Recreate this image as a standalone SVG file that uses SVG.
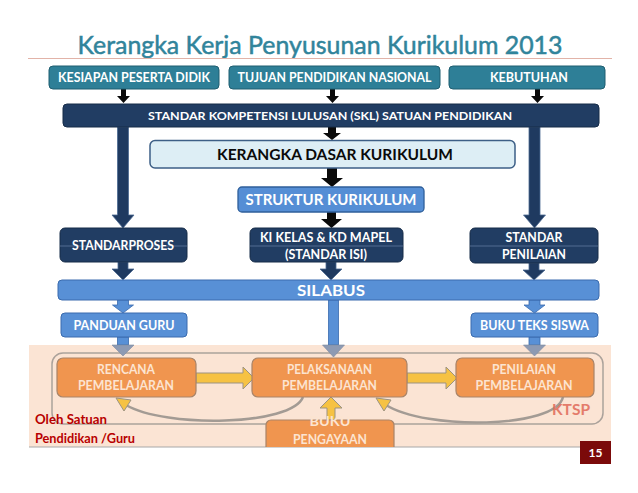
<svg xmlns="http://www.w3.org/2000/svg" width="638" height="493" viewBox="0 0 638 493">
<style>
text{font-family:Lato,"Liberation Sans",sans-serif;text-anchor:middle}
.b{font-weight:bold}
.w{fill:#ffffff}
.teal{fill:#2E7F97;stroke:#1F5E70;stroke-width:1}
.navy{fill:#213D63;stroke:#172C48;stroke-width:1}
.lb{fill:#5890D6;stroke:#3A6BAE;stroke-width:1}
.orb{fill:#F0954F;stroke:#A98468;stroke-width:1.2}
.ot{fill:#FCE4D1;font-weight:bold;font-size:12.5px}
.blk{fill:#0A0A0A}
.nav{fill:#1F3A60;stroke:#4B6A92;stroke-width:0.8}
.lba{fill:#5890D6;stroke:#3A6BAE;stroke-width:0.8}
.gh{fill:#8D9AB3;stroke:#7D89A0;stroke-width:0.6}
.yel{fill:#F6C243;stroke:#9C9382;stroke-width:1}
.crv{fill:none;stroke:#A39B94;stroke-width:2.5}
.mid{stroke:#6E89AD;stroke-width:0.8;opacity:0.8}
.red{fill:#B80000;font-weight:bold;font-size:13px;text-anchor:start}
</style>
<defs>
<clipPath id="clipB"><rect x="0" y="0" width="638" height="447"/></clipPath>
</defs>
<rect width="638" height="493" fill="#ffffff"/>

<g id="title">
<text x="320" y="54" font-size="25" fill="#31849B" stroke="#31849B" stroke-width="0.5" textLength="485" lengthAdjust="spacingAndGlyphs">Kerangka Kerja Penyusunan Kurikulum 2013</text>
<line x1="28" y1="58.5" x2="612" y2="58.5" stroke="#E2B3A8" stroke-width="1.2"/>
</g>

<g id="bottom-panel">
<rect x="29" y="345" width="582" height="102" fill="#FBE4D4"/>
<line x1="29" y1="447" x2="611" y2="447" stroke="#A8A8A8" stroke-width="1.2"/>
<rect x="52" y="353" width="551" height="71" rx="11" fill="none" stroke="#ABA29B" stroke-width="1.5"/>
</g>

<g id="connectors">
<polygon class="blk" points="121,89 126,89 126,96 130,96 123.5,103 117,96 121,96"/>
<polygon class="blk" points="330,89 335,89 335,96 339,96 332.5,103 326,96 330,96"/>
<polygon class="blk" points="535,89 540,89 540,96 544,96 537.5,103 531,96 535,96"/>
<polygon class="blk" points="328,127 336,127 336,133 341,133 332,140 323,133 328,133"/>
<polygon class="blk" points="327,168 337,168 337,178 343,178 332,187 321,178 327,178"/>
<polygon class="blk" points="327,212 336,212 336,219 342,219 331.5,228 321,219 327,219"/>
<polygon class="nav" points="117.5,127 128.5,127 128.5,215 134,215 123,228 112,215 117.5,215"/>
<polygon class="nav" points="529,127 540,127 540,215 545.5,215 534.5,228 523.5,215 529,215"/>
<polygon class="nav" points="118,262 128,262 128,269 134,269 123,280 112,269 118,269"/>
<polygon class="nav" points="326,262 336,262 336,269 342,269 331,280 320,269 326,269"/>
<polygon class="nav" points="529,263 539,263 539,270 545,270 534,280 523,270 529,270"/>
<polygon class="lba" points="117.5,300 128.5,300 128.5,305 133.5,305 123,313 112.5,305 117.5,305"/>
<polygon class="lba" points="529,300 540,300 540,305 545,305 534.5,313 524,305 529,305"/>
<rect class="lba" x="117.5" y="337" width="11" height="8"/>
<polygon class="gh" points="112,345 134,345 123,356"/>
<rect class="lba" x="529" y="337" width="11" height="8"/>
<polygon class="gh" points="523.5,345 545.5,345 534.5,356"/>
<rect class="lba" x="328.5" y="300" width="10" height="45"/>
<polygon class="gh" points="322.5,345 344.5,345 333.5,357"/>
<polygon class="yel" points="196,373 243,373 243,367 254,378 243,389 243,383 196,383"/>
<polygon class="yel" points="407,373 446,373 446,367 457,378 446,389 446,383 407,383"/>
<path class="crv" d="M303,397 C292,426 165,428 126,405"/>
<polygon class="yel" points="116,398 131,400 124,411"/>
<path class="crv" d="M563,397 C556,429 425,430 386,405"/>
<polygon class="yel" points="376,398 391,400 384,411"/>
<polygon class="yel" points="327,420 335,420 335,408 342,408 331,397 320,408 327,408"/>
</g>

<g id="n-kesiapan">
<rect class="teal" x="49" y="66" width="170" height="23" rx="4"/>
<text class="b w" x="134" y="82" font-size="12.5" textLength="152" lengthAdjust="spacingAndGlyphs">KESIAPAN PESERTA DIDIK</text>
</g>
<g id="n-tujuan">
<rect class="teal" x="229" y="66" width="211" height="23" rx="4"/>
<text class="b w" x="334.5" y="82" font-size="12.5" textLength="194" lengthAdjust="spacingAndGlyphs">TUJUAN PENDIDIKAN NASIONAL</text>
</g>
<g id="n-kebutuhan">
<rect class="teal" x="449" y="66" width="156" height="23" rx="4"/>
<text class="b w" x="529" y="82" font-size="12.5" textLength="78" lengthAdjust="spacingAndGlyphs">KEBUTUHAN</text>
</g>

<g id="n-skl">
<rect class="navy" x="63" y="104" width="536" height="23" rx="4"/>
<text class="b w" x="330" y="120" font-size="12" textLength="364" lengthAdjust="spacingAndGlyphs">STANDAR KOMPETENSI LULUSAN (SKL) SATUAN PENDIDIKAN</text>
</g>

<g id="n-kerangka">
<rect x="150" y="140.5" width="365" height="27.5" rx="5" fill="#DDEEF5" stroke="#3D5F86" stroke-width="1.5"/>
<text class="b" x="335" y="159.5" font-size="14.5" fill="#0A0A0A" textLength="236" lengthAdjust="spacingAndGlyphs">KERANGKA DASAR KURIKULUM</text>
</g>

<g id="n-struktur">
<rect x="238" y="187" width="186" height="25" rx="4" fill="#558ED5" stroke="#2F5F9A" stroke-width="1.3"/>
<text class="b w" x="331" y="205" font-size="14.5" textLength="171" lengthAdjust="spacingAndGlyphs">STRUKTUR KURIKULUM</text>
</g>

<g id="n-standarproses">
<rect class="navy" x="60" y="228" width="127" height="34" rx="5"/>
<line class="mid" x1="60" y1="246" x2="187" y2="246"/>
<text class="b w" x="123" y="250" font-size="12.5" textLength="102" lengthAdjust="spacingAndGlyphs">STANDARPROSES</text>
</g>
<g id="n-kikelas">
<rect class="navy" x="250" y="228" width="153" height="34" rx="5"/>
<line class="mid" x1="250" y1="246" x2="403" y2="246"/>
<text class="b w" x="326" y="241.5" font-size="12.5" textLength="132" lengthAdjust="spacingAndGlyphs">KI KELAS &amp; KD MAPEL</text>
<text class="b w" x="326" y="259" font-size="12.5" textLength="82" lengthAdjust="spacingAndGlyphs">(STANDAR ISI)</text>
</g>
<g id="n-penilaian">
<rect class="navy" x="470" y="228" width="128" height="35" rx="5"/>
<line class="mid" x1="470" y1="246" x2="598" y2="246"/>
<text class="b w" x="534" y="241.5" font-size="12.5" textLength="57" lengthAdjust="spacingAndGlyphs">STANDAR</text>
<text class="b w" x="534" y="259" font-size="12.5" textLength="64" lengthAdjust="spacingAndGlyphs">PENILAIAN</text>
</g>

<g id="n-silabus">
<rect class="lb" x="58" y="280" width="541" height="20" rx="4"/>
<text class="b w" x="331" y="296" font-size="16" textLength="68" lengthAdjust="spacingAndGlyphs">SILABUS</text>
</g>

<g id="n-panduan">
<rect class="lb" x="61" y="313" width="126" height="24" rx="4"/>
<text class="b w" x="124" y="329.5" font-size="12.5" textLength="101" lengthAdjust="spacingAndGlyphs">PANDUAN GURU</text>
</g>
<g id="n-bukuteks">
<rect class="lb" x="471" y="313" width="127" height="24" rx="4"/>
<text class="b w" x="534.5" y="329.5" font-size="12.5" textLength="109" lengthAdjust="spacingAndGlyphs">BUKU TEKS SISWA</text>
</g>

<g id="n-rencana">
<rect class="orb" x="57" y="358" width="139" height="39" rx="6"/>
<text class="ot" x="126" y="374" textLength="58" lengthAdjust="spacingAndGlyphs">RENCANA</text>
<text class="ot" x="126" y="390" textLength="96" lengthAdjust="spacingAndGlyphs">PEMBELAJARAN</text>
</g>
<g id="n-pelaksanaan">
<rect class="orb" x="252" y="358" width="155" height="39" rx="6"/>
<text class="ot" x="329.5" y="374" textLength="85" lengthAdjust="spacingAndGlyphs">PELAKSANAAN</text>
<text class="ot" x="329.5" y="390" textLength="95" lengthAdjust="spacingAndGlyphs">PEMBELAJARAN</text>
</g>
<g id="n-penilaianpemb">
<rect class="orb" x="456" y="358" width="138" height="39" rx="6"/>
<text class="ot" x="524" y="374" textLength="64" lengthAdjust="spacingAndGlyphs">PENILAIAN</text>
<text class="ot" x="524" y="390" textLength="97" lengthAdjust="spacingAndGlyphs">PEMBELAJARAN</text>
</g>
<g id="n-bukupengayaan" clip-path="url(#clipB)">
<rect class="orb" x="266" y="420" width="128" height="34" rx="5"/>
<text class="ot" x="330" y="426" textLength="41" lengthAdjust="spacingAndGlyphs">BUKU</text>
<text class="ot" x="330" y="444" textLength="74" lengthAdjust="spacingAndGlyphs">PENGAYAAN</text>
</g>

<g id="labels">
<text x="571" y="415" font-size="16" font-weight="bold" fill="#E2705F" opacity="0.9" textLength="38" lengthAdjust="spacingAndGlyphs">KTSP</text>
<text class="red" x="35" y="424" textLength="72" lengthAdjust="spacingAndGlyphs">Oleh Satuan</text>
<text class="red" x="35" y="443" textLength="100" lengthAdjust="spacingAndGlyphs">Pendidikan /Guru</text>
</g>

<g id="page-number">
<rect x="580" y="441" width="31" height="23" fill="#7B0A0A"/>
<text class="b w" x="595.5" y="457" font-size="12">15</text>
</g>
</svg>
